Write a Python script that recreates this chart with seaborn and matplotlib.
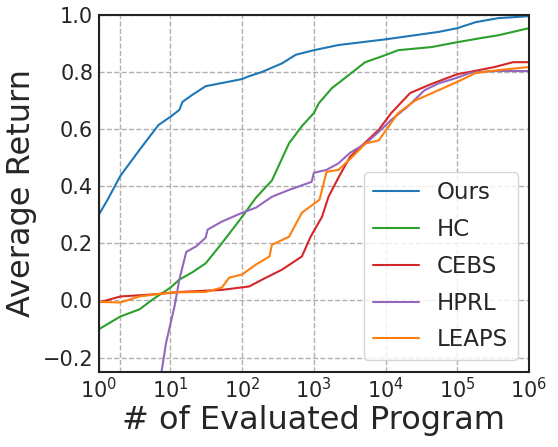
import matplotlib
matplotlib.use("Agg")
import matplotlib.pyplot as plt
from matplotlib.ticker import FixedLocator, NullFormatter
import seaborn as sns
import pandas as pd

# evaluated-program counts and average return
ours_x = [1, 1.33, 2.0, 3.7, 6.8, 10, 13.3, 14.7, 20, 31, 43, 83, 100, 125, 190, 360,
          560, 1000, 2200, 10000, 55000, 100000, 180000, 370000, 1000000]
ours_y = [0.30, 0.353, 0.436, 0.527, 0.614, 0.643, 0.667, 0.695, 0.719, 0.75, 0.757,
          0.771, 0.775, 0.785, 0.80, 0.83, 0.86, 0.876, 0.894, 0.914, 0.94, 0.953,
          0.974, 0.988, 0.995]

hc_x = [1, 2.0, 3.7, 5.6, 10, 13.3, 20, 31, 52, 100, 156, 260, 450, 680, 1000, 1170,
        1780, 3100, 5200, 10000, 15000, 44000, 100000, 210000, 370000, 1000000]
hc_y = [-0.101, -0.056, -0.031, 0.003, 0.045, 0.073, 0.098, 0.13, 0.20, 0.293, 0.36,
        0.42, 0.55, 0.61, 0.656, 0.69, 0.743, 0.79, 0.834, 0.859, 0.876, 0.887, 0.904,
        0.918, 0.928, 0.953]

cebs_x = [1, 2.0, 5.6, 14, 52, 125, 190, 360, 680, 900, 1300, 1600, 2200, 3200, 8000,
          12000, 22000, 40000, 60000, 100000, 150000, 330000, 600000, 1000000]
cebs_y = [-0.007, 0.014, 0.021, 0.03, 0.037, 0.049, 0.073, 0.108, 0.154, 0.223, 0.293,
          0.363, 0.43, 0.503, 0.597, 0.656, 0.726, 0.754, 0.771, 0.792, 0.80, 0.817,
          0.834, 0.834]

hprl_x = [7.5, 8.7, 11.4, 13.3, 16.6, 23, 31, 33, 52, 100, 156, 260, 450, 930, 1000,
          1500, 2200, 3200, 5300, 8000, 12000, 20000, 35000, 55000, 95000, 150000,
          300000, 1000000]
hprl_y = [-0.25, -0.147, -0.02, 0.073, 0.17, 0.19, 0.22, 0.248, 0.276, 0.307, 0.325,
          0.363, 0.387, 0.415, 0.447, 0.457, 0.48, 0.517, 0.55, 0.59, 0.632, 0.677,
          0.736, 0.76, 0.778, 0.796, 0.803, 0.803]

leaps_x = [1, 2.0, 3.7, 10, 31, 52, 66, 100, 156, 240, 260, 450, 680, 1200, 1400, 1500,
           2200, 3100, 5300, 8000, 15000, 26000, 100000, 180000, 370000, 1000000]
leaps_y = [-0.005, -0.007, 0.014, 0.028, 0.03, 0.045, 0.08, 0.091, 0.126, 0.154, 0.195,
           0.223, 0.307, 0.353, 0.42, 0.45, 0.457, 0.492, 0.55, 0.56, 0.656, 0.70, 0.765,
           0.796, 0.806, 0.817]

methods = ["Ours", "HC", "CEBS", "HPRL", "LEAPS"]
colors = ["#1f77b4", "#2ca02c", "#d62728", "#9467bd", "#ff7f0e"]
series_x = [ours_x, hc_x, cebs_x, hprl_x, leaps_x]
series_y = [ours_y, hc_y, cebs_y, hprl_y, leaps_y]

frames = []
for name, xs, ys in zip(methods, series_x, series_y):
    frames.append(pd.DataFrame({"x": xs, "y": ys, "method": name}))
df = pd.concat(frames, ignore_index=True)

sns.set_style("white")
fig = plt.figure(figsize=(5.58, 4.47), dpi=100)
ax = fig.add_axes([0.177, 0.168, 0.771, 0.799])

sns.lineplot(data=df, x="x", y="y", hue="method", hue_order=methods,
             palette=dict(zip(methods, colors)), estimator=None, sort=False,
             linewidth=1.5, ax=ax)

ax.set_xscale("log")
ax.set_xlim(1, 1e6)
ax.set_ylim(-0.25, 1.0)
ax.set_xticks([1, 10, 100, 1e3, 1e4, 1e5, 1e6])
ax.xaxis.set_minor_locator(FixedLocator([2]))
ax.xaxis.set_minor_formatter(NullFormatter())
ax.set_yticks([-0.2, 0.0, 0.2, 0.4, 0.6, 0.8, 1.0])
ax.tick_params(axis="both", which="both", length=0, labelsize=15, pad=4)
ax.grid(True, which="both", linestyle="--", color="#b0b0b0", linewidth=1.0)

for sp in ax.spines.values():
    sp.set_color("#222222")
    sp.set_linewidth(1.5)

ax.set_xlabel("# of Evaluated Program", fontsize=23, labelpad=2)
ax.set_ylabel("Average Return", fontsize=23, labelpad=4)

ax.legend(loc="lower right", fontsize=16.5, frameon=True, handlelength=2.0,
          labelspacing=0.6)

fig.savefig("out.png", dpi=100)
